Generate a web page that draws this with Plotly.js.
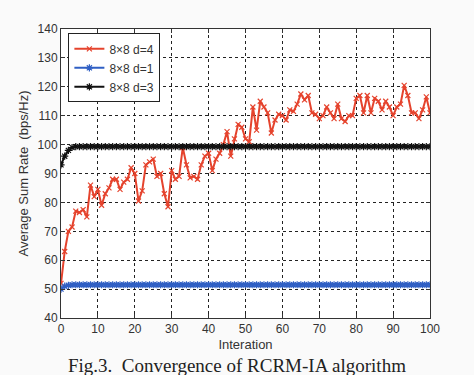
<!DOCTYPE html>
<html>
<head>
<meta charset="utf-8">
<script src="https://cdn.plot.ly/plotly-3.0.1.min.js"></script>
<style>html,body{margin:0;padding:0;background:#fafafa;}#chart{width:474px;height:375px;}</style>
</head>
<body>
<div id="chart"></div>
<script>
const iterations = Array.from({length: 101}, (_, i) => i);
const rateD4 = [52,63,70,71.5,77,76.5,77.5,75,86,82,84.5,79,83,85,88,88,84.5,87,88,92,90,80.5,84,93,94,95,89,90,83,78.5,91,88,89,99,93,88.5,89,88,93,96,97,91,95,97,100,104.5,96,102,107,106,102,101,113,105,115,113,111,104,108.5,110.5,110,108.5,112,111.5,114,117.5,115.5,117,111,110.5,109,110,113,111,109,114,109,108,110,110,116,117,111,117,111,116,115,112,115,113,110,113,114,120.5,117,111,111,109,112,116.5,111];
const rateD1 = [50,51,51.3,51.5,51.5].concat(new Array(96).fill(51.5));
const rateD3 = [93,96,98,99,99.3].concat(new Array(96).fill(99.3));
const seriesNames = ['8×8 d=4', '8×8 d=1', '8×8 d=3'];
const xTicks = [0,10,20,30,40,50,60,70,80,90,100];
const yTicks = [40,50,60,70,80,90,100,110,120,130,140];

const mk = (y, name, color, sym, w, ms) => ({
  x: iterations, y: y, name: name, type: 'scatter', mode: 'lines+markers',
  line: {color: color, width: w},
  marker: {symbol: sym, size: ms, color: color, line: {color: color, width: 1.2}}
});

const data = [
  mk(rateD4, seriesNames[0], '#e5432d', 'x-thin', 2, 5),
  mk(rateD1, seriesNames[1], '#2f5fc4', 'asterisk', 2, 6),
  mk(rateD3, seriesNames[2], '#111111', 'asterisk', 2, 6)
];

const axisCommon = {
  showline: true, mirror: 'ticks', linecolor: '#333', linewidth: 1,
  ticks: 'inside', ticklen: 4, tickcolor: '#333',
  showgrid: true, gridcolor: '#222', griddash: 'dot', gridwidth: 1,
  zeroline: false, tickfont: {family: 'Liberation Sans, Arial', size: 12, color: '#333'}
};

const layout = {
  width: 474, height: 375,
  paper_bgcolor: '#fafafa', plot_bgcolor: '#ffffff',
  margin: {l: 61, r: 44, t: 29, b: 57},
  showlegend: true,
  legend: {x: 0.02, y: 0.985, xanchor: 'left', yanchor: 'top', bgcolor: '#ffffff',
    bordercolor: '#222', borderwidth: 1, font: {family: 'Liberation Sans, Arial', size: 12, color: '#333'},
    tracegroupgap: 0, itemwidth: 30},
  xaxis: Object.assign({}, axisCommon, {range: [0, 100], tickvals: xTicks,
    title: {text: 'Interation', font: {family: 'Liberation Sans, Arial', size: 13, color: '#333'}, standoff: 4}}),
  yaxis: Object.assign({}, axisCommon, {range: [40, 140], tickvals: yTicks,
    title: {text: 'Average Sum Rate  (bps/Hz)', font: {family: 'Liberation Sans, Arial', size: 13, color: '#333'}, standoff: 6}}),
  annotations: [{
    text: 'Fig.3.  Convergence of RCRM-IA algorithm', xref: 'paper', yref: 'paper',
    x: 0.476, y: -0.163, xanchor: 'center', yanchor: 'middle', showarrow: false,
    font: {family: 'Liberation Serif, Times New Roman', size: 19, color: '#222'}
  }]
};

Plotly.newPlot('chart', data, layout, {displayModeBar: false, staticPlot: true});
</script>
</body>
</html>
